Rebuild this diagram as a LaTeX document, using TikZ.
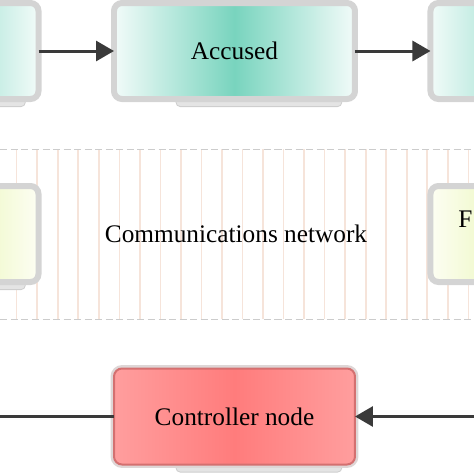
\documentclass[tikz,border=0pt]{standalone}
\usepackage{fontspec}
\setmainfont{Liberation Serif}
\usepackage{tikz}
\usetikzlibrary{arrows.meta, positioning, calc, backgrounds}
\definecolor{boxgray}{RGB}{212,212,212}
\definecolor{tabgray}{RGB}{228,228,228}
\definecolor{tabedge}{RGB}{206,206,206}
\definecolor{tealmid}{RGB}{120,212,190}
\definecolor{tealedge}{RGB}{242,251,249}
\definecolor{limemid}{RGB}{224,243,156}
\definecolor{limeedge}{RGB}{253,254,243}
\definecolor{redmid}{RGB}{255,124,124}
\definecolor{rededge}{RGB}{255,158,158}
\definecolor{redline}{RGB}{212,112,112}
\definecolor{ctrlgray}{RGB}{222,214,214}
\definecolor{arrowgray}{RGB}{58,58,58}
\definecolor{hatchpeach}{RGB}{246,228,218}
\definecolor{dashgray}{RGB}{204,204,204}

\tikzset{
  bigtext/.style={font=\fontsize{18}{21}\selectfont},
  stagebox/.style={rectangle, rounded corners=0.2cm, draw=boxgray, line width=0.15cm, minimum width=6.025cm, minimum height=2.4cm, outer sep=0pt, bigtext},
  tealbox/.style={stagebox, left color=tealedge, right color=tealedge, middle color=tealmid},
  limebox/.style={stagebox, left color=limeedge, right color=limeedge, middle color=limemid},
  ctrlbox/.style={stagebox, draw=redline, line width=0.05cm, preaction={draw=ctrlgray, line width=0.17cm}, left color=rededge, right color=rededge, middle color=redmid},
  flow/.style={-{Triangle[length=0.45cm, width=0.5cm]}, line width=0.075cm, draw=arrowgray},
  flowline/.style={line width=0.075cm, draw=arrowgray},
  hatchline/.style={draw=hatchpeach, line width=0.04cm},
  netedge/.style={draw=dashgray, line width=0.7pt, dash pattern=on 5pt off 2.5pt}
}

% tab under a box
\newcommand{\boxtab}[1]{\draw[fill=tabgray, draw=tabedge, line width=0.6pt, rounded corners=3pt] ($(#1.south west)+(1.55,0.3)$) rectangle ($(#1.south east)+(-0.33,-0.19)$);}

\begin{document}
\begin{tikzpicture}
    \useasboundingbox (0,0) rectangle (11.85,-11.85);
    \clip (0,0) rectangle (11.85,-11.85);

    % Stages
    \node[tealbox] (accused) at (5.8625,-1.275) {Accused};
    \node[tealbox, left=1.8875cm of accused] (prev) {};
    \node[tealbox, right=1.8875cm of accused] (next) {};

    % Network
    \node[limebox, below=2.175cm of prev] (leftmid) {};
    \node[limebox, below=2.175cm of next] (rightmid) {};
    \node[bigtext, minimum width=16cm, minimum height=4.25cm, outer sep=0pt] (net) at (5.9,-5.85) {Communications network};
    \node[bigtext, anchor=base west, inner sep=0pt] (fmark) at (11.45,-5.675) {F};

    % Controller
    \node[ctrlbox, below=6.7375cm of accused] (ctrl) {Controller node};
    \coordinate[left=3cm of ctrl] (leftend);
    \coordinate[right=3.3cm of ctrl] (rightend);

    % Background
    \begin{scope}[on background layer]
      \foreach \k in {0,...,22}
        \draw[hatchline] ({0.4175+0.51325*\k},-3.725) -- ({0.4175+0.51325*\k},-7.975);
      \draw[netedge] (net.north west) -- (net.north east);
      \draw[netedge] (net.south west) -- (net.south east);
      \boxtab{prev}
      \boxtab{accused}
      \boxtab{leftmid}
      \boxtab{ctrl}
    \end{scope}

    % Arrows
    \draw[flow] (prev) -- (accused);
    \draw[flow] (accused) -- (next);
    \draw[flowline] (ctrl) -- (leftend);
    \draw[flow] (rightend) -- (ctrl);
\end{tikzpicture}
\end{document}
